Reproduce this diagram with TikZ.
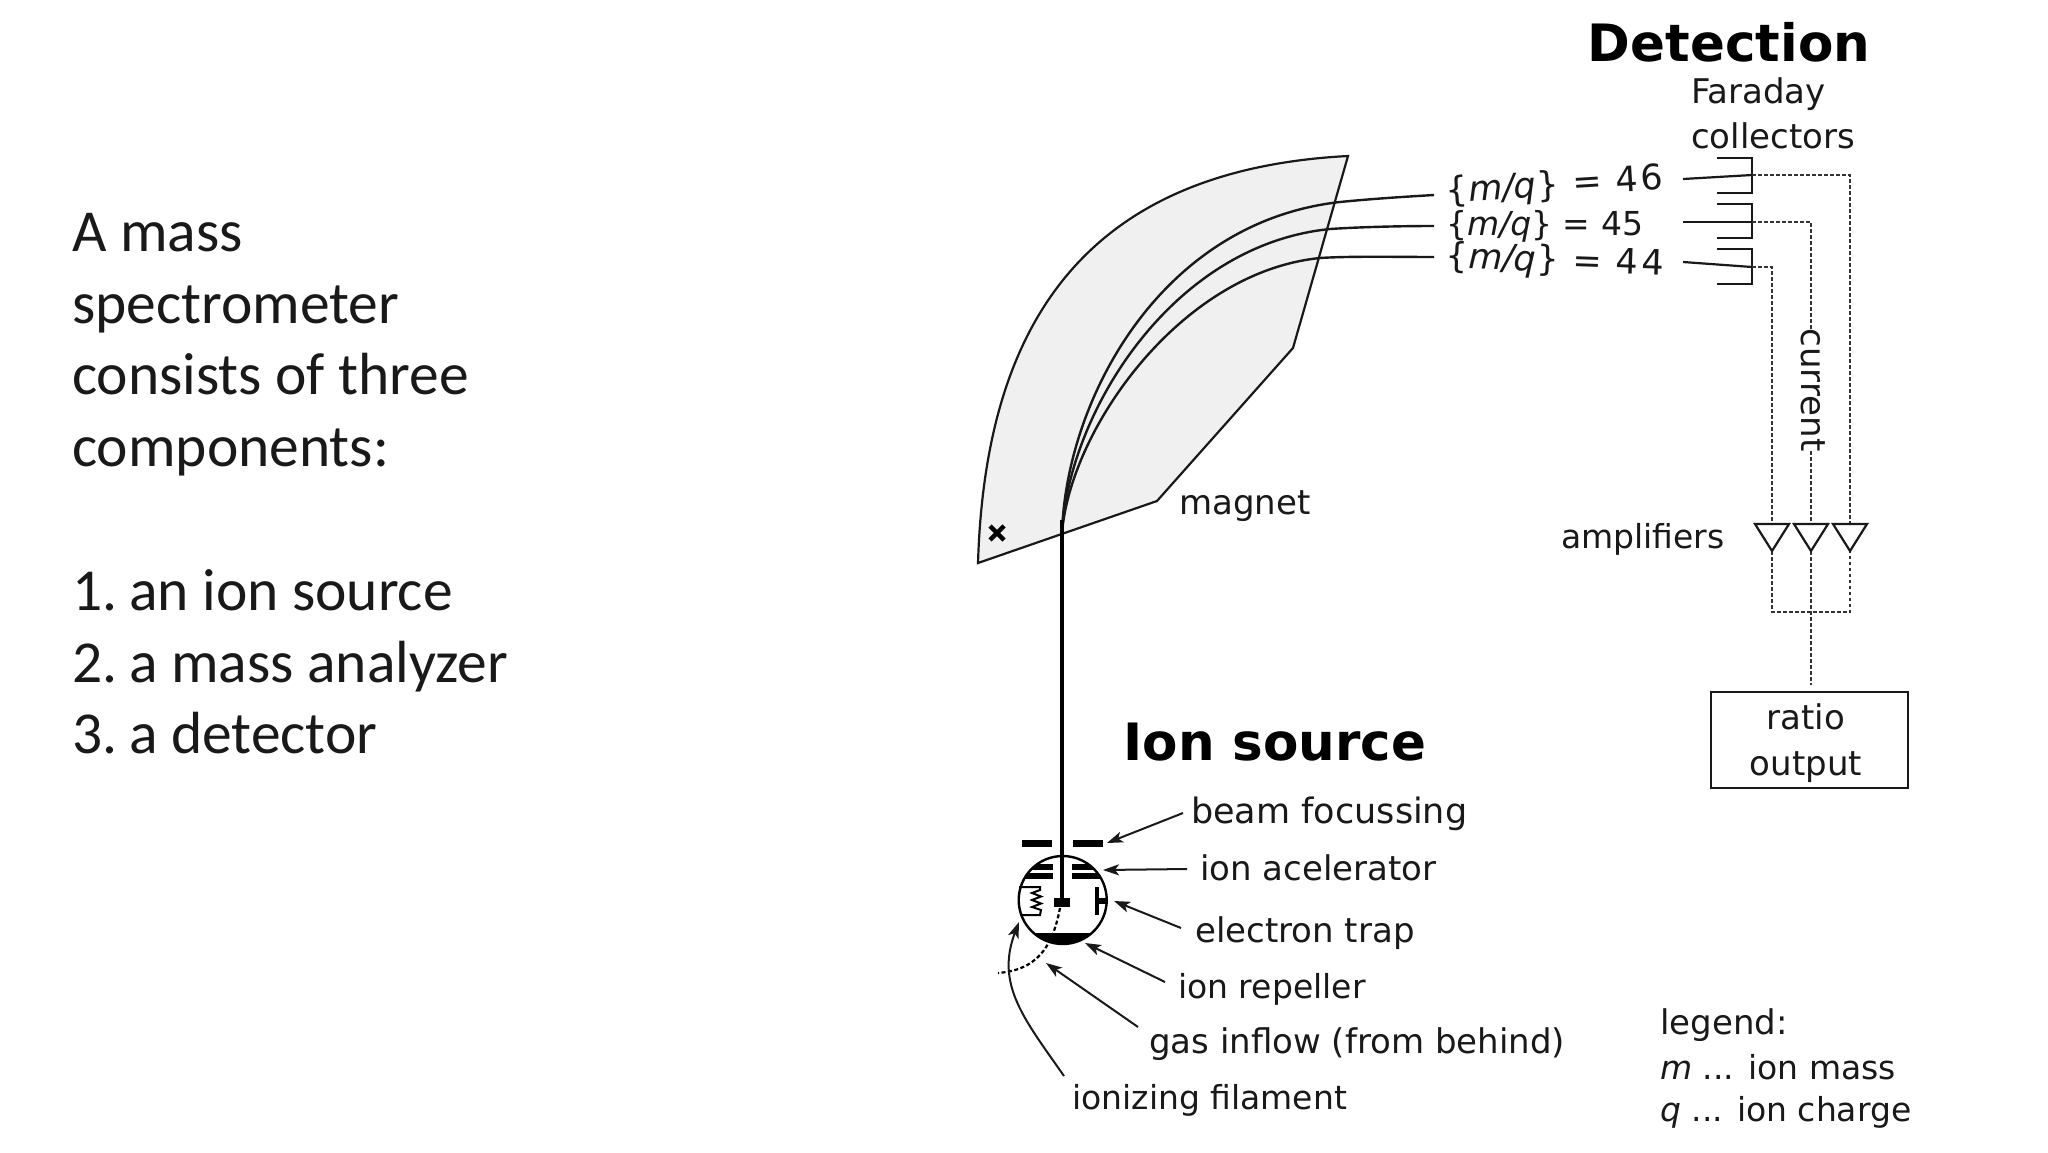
\documentclass[tikz,border=0pt]{standalone}
\usepackage{fontspec}
\setmainfont{DejaVu Sans}
\newfontfamily\bodyfont{Carlito}
\usetikzlibrary{arrows.meta}
\newcommand{\fsz}[1]{\fontsize{#1}{40}\selectfont}
\tikzset{
  x=1pt,y=-1pt,
  lab/.style={anchor=west,inner sep=0pt,text=black!90,font=\fsz{34}},
  cen/.style={anchor=center,inner sep=0pt,text=black!90,font=\fsz{34}},
  head/.style={anchor=center,inner sep=0pt,font=\fontsize{51.5}{60}\selectfont\bfseries},
  ln/.style={line width=2.2pt,draw=black!90},
  beamline/.style={line width=2.4pt,draw=black!90},
  dot/.style={line width=2.2pt,draw=black!80,dash pattern=on 3.5pt off 2.5pt},
  pointer/.style={line width=2pt,draw=black!90,-{Stealth[length=16pt,width=11pt,inset=4pt]}},
  bar/.style={line width=7pt,draw=black},
}
\begin{document}
\begin{tikzpicture}
\useasboundingbox (0,0) rectangle (2048,1152);
\fill[white] (0,0) rectangle (2048,1152);

% left text
\node[anchor=north west,inner sep=0pt,align=left,font=\bodyfont\fontsize{59.5}{71.8}\selectfont,text=black!90] (intro) at (72,213)
 {A mass\\spectrometer\\consists of three\\components:\\[71.8pt]1.\kern-1.5pt\ an ion source\\2.\kern-1.5pt\ a mass analyzer\\3.\kern-1.5pt\ a detector};

% magnet
\coordinate (m1) at (978,563);
\coordinate (m2) at (1348,156);
\coordinate (m3) at (1293,348);
\coordinate (m4) at (1157,501);
\filldraw[ln,fill=black!6] (m1) .. controls (985,330) and (1080,170) .. (m2) -- (m3) -- (m4) -- cycle;
\draw[line width=4.4pt] (990,526) -- (1004,540) (1004,526) -- (990,540);

% beams
\coordinate (bs) at (1062,533);
\coordinate (b1) at (1434,195);
\coordinate (b2) at (1434,226);
\coordinate (b3) at (1434,257);
\draw[beamline] (bs) .. controls (1066,400) and (1160,222) .. (1340,202) .. controls (1370,199) and (1400,197) .. (b1);
\draw[beamline] (bs) .. controls (1068,415) and (1170,245) .. (1330,229) .. controls (1360,227) and (1400,226) .. (b2);
\draw[beamline] (bs) .. controls (1070,430) and (1180,272) .. (1320,258) .. controls (1350,256) and (1400,257) .. (b3);
\coordinate (src) at (1062,900);
\draw[line width=4.5pt,draw=black] (1062,520) -- (src);

% m/q labels
\node[lab,rotate=3.5,font=\fsz{35}] (q46) at (1446,193) {\{\textit{m/q}\}\hspace{3pt} = \hspace{3pt}4\hspace{3pt}6};
\node[lab,font=\fsz{33}] (q45) at (1446,226) {\{\textit{m/q}\} = 45};
\node[lab,rotate=-2,font=\fsz{35}] (q44) at (1446,258) {\{\textit{m/q}\}\hspace{3pt} = \hspace{3pt}4\hspace{3pt}4};

% collectors
\draw[ln] (1717,158) -- (1752,158) -- (1752,193) -- (1717,193);
\draw[ln] (1717,204) -- (1752,204) -- (1752,238) -- (1717,238);
\draw[ln] (1717,249) -- (1752,249) -- (1752,284) -- (1717,284);
\coordinate (c1a) at (1683,179); \coordinate (c1b) at (1752,175);
\coordinate (c2a) at (1683,222); \coordinate (c2b) at (1752,222);
\coordinate (c3a) at (1683,262); \coordinate (c3b) at (1752,267);
\draw[ln] (c1a) -- (c1b);
\draw[ln] (c2a) -- (c2b);
\draw[ln] (c3a) -- (c3b);

% amplifiers
\coordinate (a1) at (1772,524); \coordinate (a2) at (1811,524); \coordinate (a3) at (1850,524);
\coordinate (o1) at (1772,551); \coordinate (o2) at (1811,551); \coordinate (o3) at (1850,551);
\coordinate (j1) at (1772,612); \coordinate (j3) at (1850,612);
\draw[dot] (c1b) -| (a3);
\draw[dot] (c2b) -| (a2);
\draw[dot] (c3b) -| (a1);
\draw[dot] (o1) -- (j1) -- (j3) -- (o3);
\node[draw=black!90,line width=2.2pt,minimum width=197pt,minimum height=96pt,inner sep=0pt] (ratio) at (1809.5,740) {};
\draw[dot] (o2) -- (1811,685);
\draw[ln,fill=white] (1755,524) -- (1789,524) -- (o1) -- cycle;
\draw[ln,fill=white] (1794,524) -- (1828,524) -- (o2) -- cycle;
\draw[ln,fill=white] (1833,524) -- (1867,524) -- (o3) -- cycle;
\node[cen,fill=white,rotate=-90,inner xsep=0pt,inner ysep=2pt] (cur) at (1813,390) {current};
\node[cen] (ratiot) at (1806,717) {ratio};
\node[cen] (outt) at (1806,767) {output};
\node[lab,font=\fsz{33}] (amp) at (1561,539) {amplifiers};
\node[lab] (far1) at (1691,94) {Faraday};
\node[lab] (far2) at (1691,136) {collectors};
\node[head] (det) at (1729,42) {Detection};
\node[lab] (mag) at (1179,506) {magnet};
\node[head] (ion) at (1275,742) {Ion source};

% ion source
\draw[bar] (1022,843) -- (1052,843);
\draw[bar] (1073,843) -- (1103,843);
\begin{scope}
  \clip (1062.7,900) circle (44);
  \draw[line width=6pt] (1020,867) -- (1053,867) (1072,867) -- (1105,867);
  \draw[line width=6pt] (1020,876) -- (1053,876) (1072,876) -- (1105,876);
  \fill (1015,933) rectangle (1110,950);
\end{scope}
\draw[line width=2.4pt] (1062.7,900) circle (44);
\fill (1054,898) rectangle (1070,907);
\draw[line width=2pt] (1019,887) -- (1040,887) -- (1040,890) -- (1032,893) -- (1041,896.5) -- (1032,900) -- (1041,903.5) -- (1032,907) -- (1041,910) -- (1040,915) -- (1021,915);
\draw[line width=4.5pt] (1097,887) -- (1097,915);
\draw[line width=6pt] (1097,901) -- (1108,901);
\coordinate (d1) at (1060,908);
\coordinate (d2) at (998,973);
\draw[line width=2.2pt,dash pattern=on 4pt off 2.5pt] (d1) .. controls (1052,950) and (1035,970) .. (d2);

% source labels
\node[lab,font=\fsz{35}] (l1) at (1191,814) {beam focussing};
\node[lab] (l2) at (1200,868) {ion acelerator};
\node[lab] (l3) at (1195,933) {electron trap};
\node[lab,font=\fsz{33}] (l4) at (1178,989) {ion repeller};
\node[lab] (l5) at (1149,1044) {gas inflow (from behind)};
\node[lab,font=\fsz{33}] (l6) at (1072,1100) {ionizing filament};
\coordinate (t1) at (1107,843);
\coordinate (t2) at (1103,870);
\coordinate (t3) at (1114,901);
\coordinate (t4) at (1085,943);
\coordinate (t5) at (1046,963);
\coordinate (t6) at (1019,922);
\coordinate (s1) at (1183,813);
\coordinate (s2) at (1187,869);
\coordinate (s3) at (1181,928);
\coordinate (s4) at (1165,982);
\coordinate (s5) at (1138,1027);
\coordinate (s6) at (1064,1076);
\draw[pointer] (s1) -- (t1);
\draw[pointer] (s2) -- (t2);
\draw[pointer] (s3) -- (t3);
\draw[pointer] (s4) -- (t4);
\draw[pointer] (s5) -- (t5);
\draw[pointer] (s6) .. controls (1025,1020) and (995,985) .. (t6);

% legend
\node[lab] (lg1) at (1660,1025) {legend:};
\node[lab,font=\fsz{33}] (lg2) at (1660,1067) {\textit{m} ... ion mass};
\node[lab,font=\fsz{33}] (lg3) at (1660,1112) {\textit{q} ... ion charge};
\end{tikzpicture}
\end{document}
